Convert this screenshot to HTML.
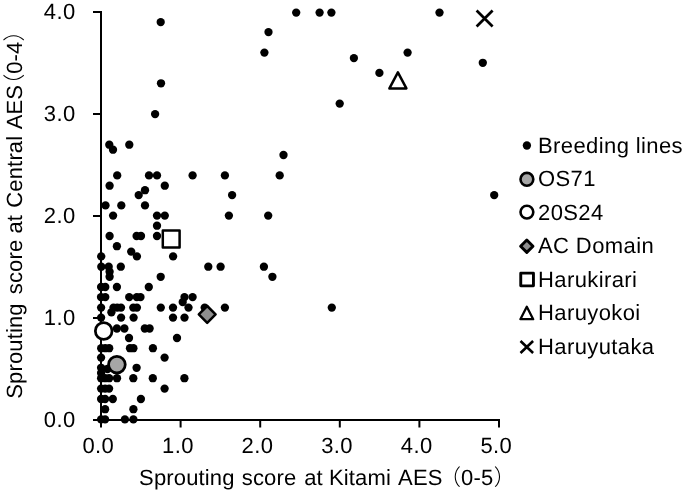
<!DOCTYPE html>
<html><head><meta charset="utf-8"><title>Sprouting score scatter</title>
<style>
html,body{margin:0;padding:0;background:#fff;}
svg{display:block;}
text{font-family:"Liberation Sans", Arial, "Noto Sans CJK JP", sans-serif;fill:#000;text-rendering:geometricPrecision;}
.c{font-family:"Noto Sans CJK JP", "IPAGothic", sans-serif;font-weight:300;}
</style></head><body>
<svg width="685" height="494" viewBox="0 0 685 494">
<rect width="685" height="494" fill="#fff"/>
<g stroke="#000" stroke-width="2" fill="none">
<path d="M101 11V420H500"/>
<path d="M93 420.0H101"/><path d="M93 318.0H101"/><path d="M93 216.0H101"/><path d="M93 114.0H101"/><path d="M93 12.0H101"/><path d="M101.0 420V427.5"/><path d="M180.6 420V427.5"/><path d="M260.2 420V427.5"/><path d="M339.8 420V427.5"/><path d="M419.4 420V427.5"/><path d="M499.0 420V427.5"/>
</g>
<g font-size="22.0" letter-spacing="0.4">
<text x="43.8" y="426.6">0.0</text>
<text x="43.8" y="324.6">1.0</text>
<text x="43.8" y="222.6">2.0</text>
<text x="43.8" y="120.6">3.0</text>
<text x="43.8" y="18.6">4.0</text>
<text x="82.4" y="453.4">0.0</text>
<text x="162.0" y="453.4">1.0</text>
<text x="241.6" y="453.4">2.0</text>
<text x="321.2" y="453.4">3.0</text>
<text x="400.8" y="453.4">4.0</text>
<text x="480.4" y="453.4">5.0</text>
</g>
<text y="484.6" font-size="22.0" letter-spacing="0.15"><tspan x="139.1">Sprouting</tspan> <tspan x="241.8">score</tspan> <tspan x="304.2">at</tspan> <tspan x="328.9">Kitami</tspan> <tspan x="398.1">AES</tspan><tspan x="438.9" class="c">（</tspan><tspan x="461.1">0-5</tspan><tspan x="493.8" class="c">）</tspan></text>
<text transform="translate(21.9 0) rotate(-90)" y="0" font-size="22.0" letter-spacing="0.15"><tspan x="-398.8">Sprouting</tspan> <tspan x="-294.2">score</tspan> <tspan x="-233.6">at</tspan> <tspan x="-207.7">Central</tspan> <tspan x="-129.3">AES</tspan><tspan x="-95.7" class="c">（</tspan><tspan x="-73.8">0-4</tspan><tspan x="-41.5" class="c">）</tspan></text>
<g fill="#000">
<circle cx="296.2" cy="12.6" r="4.15"/><circle cx="319.6" cy="12.6" r="4.15"/><circle cx="331.4" cy="12.6" r="4.15"/><circle cx="439.5" cy="12.6" r="4.15"/>
<circle cx="160.7" cy="22.1" r="4.15"/>
<circle cx="268.5" cy="32.1" r="4.15"/>
<circle cx="264.4" cy="52.6" r="4.15"/><circle cx="407.6" cy="52.6" r="4.15"/>
<circle cx="353.9" cy="58.1" r="4.15"/>
<circle cx="482.8" cy="62.8" r="4.15"/>
<circle cx="379.4" cy="72.9" r="4.15"/>
<circle cx="161.0" cy="83.3" r="4.15"/>
<circle cx="339.7" cy="103.6" r="4.15"/>
<circle cx="155.1" cy="114.1" r="4.15"/>
<circle cx="109.3" cy="144.7" r="4.15"/><circle cx="129.3" cy="144.7" r="4.15"/>
<circle cx="113.0" cy="149.7" r="4.15"/>
<circle cx="283.5" cy="155.0" r="4.15"/>
<circle cx="117.2" cy="175.4" r="4.15"/><circle cx="149.0" cy="175.4" r="4.15"/><circle cx="157.0" cy="175.4" r="4.15"/><circle cx="192.6" cy="175.4" r="4.15"/><circle cx="224.9" cy="175.4" r="4.15"/><circle cx="279.7" cy="175.4" r="4.15"/>
<circle cx="109.6" cy="185.7" r="4.15"/><circle cx="164.8" cy="185.7" r="4.15"/>
<circle cx="145.0" cy="190.2" r="4.15"/>
<circle cx="138.7" cy="195.1" r="4.15"/><circle cx="232.1" cy="195.1" r="4.15"/><circle cx="494.2" cy="195.1" r="4.15"/>
<circle cx="105.5" cy="205.4" r="4.15"/><circle cx="121.3" cy="205.4" r="4.15"/><circle cx="145.0" cy="205.4" r="4.15"/>
<circle cx="113.1" cy="215.6" r="4.15"/><circle cx="157.0" cy="215.6" r="4.15"/><circle cx="164.8" cy="215.6" r="4.15"/><circle cx="228.9" cy="215.6" r="4.15"/><circle cx="268.2" cy="215.6" r="4.15"/>
<circle cx="157.0" cy="225.7" r="4.15"/>
<circle cx="109.6" cy="236.0" r="4.15"/><circle cx="136.6" cy="236.0" r="4.15"/><circle cx="141.0" cy="236.0" r="4.15"/><circle cx="157.0" cy="236.0" r="4.15"/>
<circle cx="116.9" cy="246.2" r="4.15"/>
<circle cx="131.2" cy="251.6" r="4.15"/>
<circle cx="101.2" cy="256.4" r="4.15"/><circle cx="136.9" cy="256.4" r="4.15"/><circle cx="173.1" cy="256.4" r="4.15"/>
<circle cx="101.3" cy="266.7" r="4.15"/><circle cx="108.7" cy="266.7" r="4.15"/><circle cx="120.8" cy="266.7" r="4.15"/><circle cx="208.3" cy="266.7" r="4.15"/><circle cx="220.6" cy="266.7" r="4.15"/><circle cx="263.9" cy="266.7" r="4.15"/>
<circle cx="109.6" cy="271.7" r="4.15"/>
<circle cx="109.6" cy="276.8" r="4.15"/><circle cx="160.7" cy="276.8" r="4.15"/><circle cx="272.4" cy="276.8" r="4.15"/>
<circle cx="101.1" cy="287.0" r="4.15"/><circle cx="105.3" cy="287.0" r="4.15"/><circle cx="116.9" cy="287.0" r="4.15"/><circle cx="148.8" cy="287.0" r="4.15"/>
<circle cx="101.0" cy="297.1" r="4.15"/><circle cx="105.3" cy="297.1" r="4.15"/><circle cx="129.2" cy="297.1" r="4.15"/><circle cx="136.8" cy="297.1" r="4.15"/><circle cx="140.5" cy="297.1" r="4.15"/><circle cx="184.5" cy="297.1" r="4.15"/><circle cx="192.6" cy="297.1" r="4.15"/>
<circle cx="182.7" cy="302.1" r="4.15"/>
<circle cx="101.1" cy="307.6" r="4.15"/><circle cx="113.5" cy="307.6" r="4.15"/><circle cx="117.2" cy="307.6" r="4.15"/><circle cx="121.0" cy="307.6" r="4.15"/><circle cx="133.3" cy="307.6" r="4.15"/><circle cx="136.9" cy="307.6" r="4.15"/><circle cx="160.8" cy="307.6" r="4.15"/><circle cx="173.0" cy="307.6" r="4.15"/><circle cx="188.5" cy="307.6" r="4.15"/><circle cx="204.7" cy="307.6" r="4.15"/><circle cx="224.9" cy="307.6" r="4.15"/><circle cx="331.8" cy="307.6" r="4.15"/>
<circle cx="111.4" cy="312.3" r="4.15"/>
<circle cx="101.1" cy="317.6" r="4.15"/><circle cx="121.1" cy="317.6" r="4.15"/><circle cx="133.6" cy="317.6" r="4.15"/><circle cx="173.0" cy="317.6" r="4.15"/><circle cx="184.5" cy="317.6" r="4.15"/>
<circle cx="116.9" cy="328.5" r="4.15"/><circle cx="124.4" cy="328.5" r="4.15"/><circle cx="144.8" cy="328.5" r="4.15"/><circle cx="149.6" cy="328.5" r="4.15"/>
<circle cx="129.0" cy="338.0" r="4.15"/><circle cx="177.0" cy="338.0" r="4.15"/>
<circle cx="101.2" cy="348.2" r="4.15"/><circle cx="105.2" cy="348.2" r="4.15"/><circle cx="109.2" cy="348.2" r="4.15"/><circle cx="130.0" cy="348.2" r="4.15"/><circle cx="133.4" cy="348.2" r="4.15"/><circle cx="152.9" cy="348.2" r="4.15"/>
<circle cx="101.1" cy="357.6" r="4.15"/><circle cx="164.6" cy="357.6" r="4.15"/>
<circle cx="101.1" cy="367.8" r="4.15"/><circle cx="136.6" cy="367.8" r="4.15"/>
<circle cx="107.5" cy="369.0" r="4.15"/>
<circle cx="101.1" cy="372.9" r="4.15"/>
<circle cx="101.1" cy="378.2" r="4.15"/><circle cx="105.1" cy="378.2" r="4.15"/><circle cx="109.1" cy="378.2" r="4.15"/><circle cx="117.0" cy="378.2" r="4.15"/><circle cx="133.3" cy="378.2" r="4.15"/><circle cx="152.8" cy="378.2" r="4.15"/><circle cx="184.4" cy="378.2" r="4.15"/>
<circle cx="101.1" cy="388.6" r="4.15"/><circle cx="105.1" cy="388.6" r="4.15"/><circle cx="109.1" cy="388.6" r="4.15"/><circle cx="164.6" cy="388.6" r="4.15"/>
<circle cx="101.1" cy="399.0" r="4.15"/><circle cx="105.1" cy="399.0" r="4.15"/><circle cx="112.8" cy="399.0" r="4.15"/><circle cx="140.9" cy="399.0" r="4.15"/>
<circle cx="105.1" cy="409.2" r="4.15"/><circle cx="133.4" cy="409.2" r="4.15"/>
<circle cx="101.1" cy="419.4" r="4.15"/><circle cx="105.1" cy="419.4" r="4.15"/><circle cx="124.9" cy="419.4" r="4.15"/><circle cx="133.4" cy="419.4" r="4.15"/>
</g>
<g stroke="#000" stroke-width="2.5" stroke-linejoin="round">
<circle cx="103.7" cy="331.0" r="8.35" fill="#fff" stroke-width="2.75"/>
<circle cx="116.9" cy="364.6" r="8.35" fill="#a6a6a6" stroke-width="2.75"/>
<path d="M207.2 306.0L215.6 314.4L207.2 322.8L198.8 314.4Z" fill="#8e8e8e"/>
<rect x="162.8" y="230.4" width="16.8" height="17.2" fill="#fff"/>
<path d="M397.9 72.4L406.4 88.4H389.4Z" fill="#fff"/>
<path d="M476.6 10.5L492.6 26.5M492.6 10.5L476.6 26.5" fill="none" stroke-width="2.7"/>
</g>
<circle cx="526.9" cy="145.5" r="4.15" fill="#000"/>
<g stroke="#000" stroke-width="2.3" stroke-linejoin="round">
<circle cx="526.9" cy="179.3" r="6.4" fill="#a6a6a6" stroke-width="2.6"/>
<circle cx="526.9" cy="212.1" r="6.4" fill="#fff" stroke-width="2.6"/>
<path d="M526.8 240.0L533.0 246.2L526.8 252.4L520.6 246.2Z" fill="#8e8e8e" stroke-width="2.9"/>
<rect x="520.75" y="273.15" width="12.7" height="12.7" fill="#fff" stroke-width="2.9"/>
<path d="M526.8 306.7L533.2 319.2H520.4Z" fill="#fff"/>
<path d="M520.5 341.0L533.1 353.0M533.1 341.0L520.5 353.0" fill="none" stroke-width="2.6"/>
</g>
<g font-size="22.0" letter-spacing="0.4">
<text x="538" y="152.7">Breeding lines</text>
<text x="538" y="186.2">OS71</text>
<text x="538" y="219.7">20S24</text>
<text x="538" y="253.2">AC Domain</text>
<text x="538" y="286.7">Harukirari</text>
<text x="538" y="320.3">Haruyokoi</text>
<text x="538" y="353.8">Haruyutaka</text>
</g>
</svg>
</body></html>
